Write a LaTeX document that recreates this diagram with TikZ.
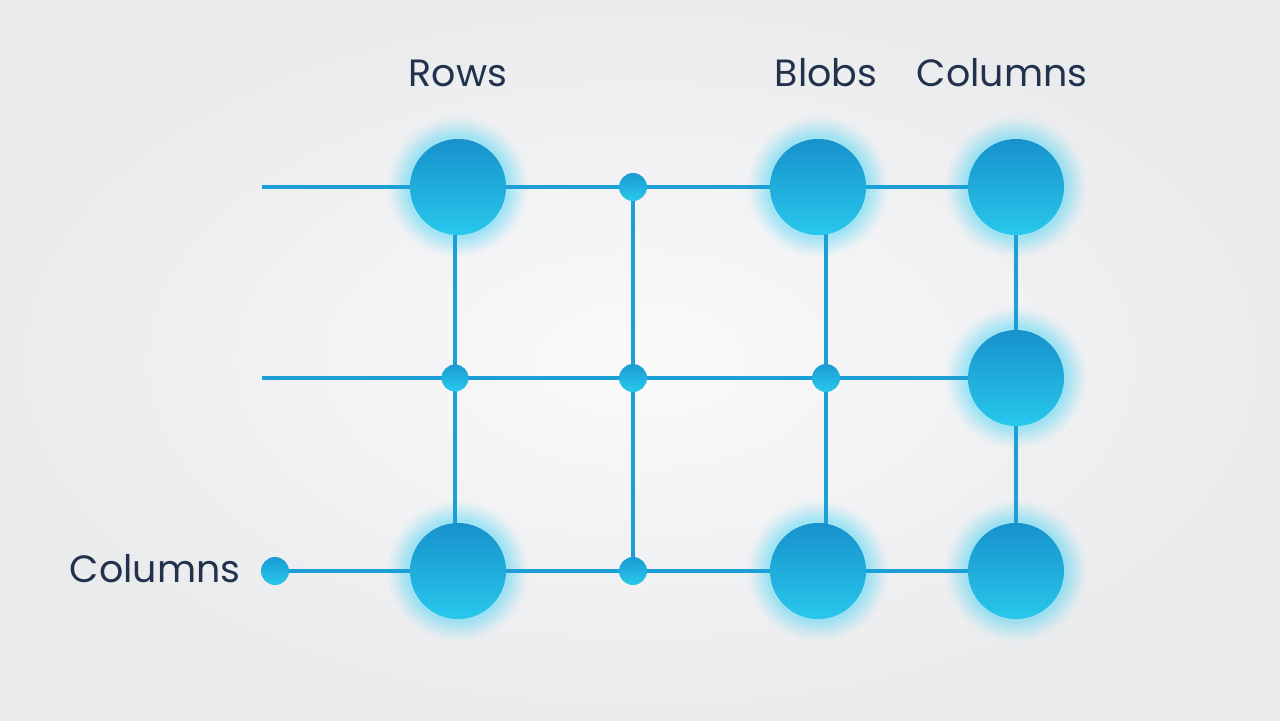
\documentclass[tikz,border=0pt]{standalone}
\usepackage{fontspec}
\setmainfont{Poppins}
\definecolor{bgout}{HTML}{EAEBED}
\definecolor{bgin}{HTML}{FAFAFB}
\definecolor{linec}{HTML}{1C9ED6}
\definecolor{bigtop}{HTML}{1791CC}
\definecolor{bigbot}{HTML}{28C8EC}
\definecolor{glowc}{HTML}{6DDCF7}
\definecolor{txt}{HTML}{22324D}
\pgfdeclarelayer{bottom}
\pgfdeclarelayer{background}
\pgfsetlayers{bottom,background,main}
\tikzset{
  big/.style={circle, minimum size=0.96cm, inner sep=0pt, top color=bigtop, bottom color=bigbot, draw=none},
  small/.style={circle, minimum size=0.28cm, inner sep=0pt, top color=bigtop!80!bigbot, bottom color=bigbot, draw=none},
  link/.style={draw=linec, line width=1pt},
  lab/.style={text=txt, font=\fontsize{10.8}{13}\selectfont, inner sep=0pt}
}
\newcommand{\myglow}[1]{%
  \foreach \r/\o in {70/0.06,67/0.08,64/0.10,61/0.12,58/0.14,55/0.16,52/0.18}{\fill[glowc, opacity=\o] (#1) circle (\r);}}
\begin{document}
\begin{tikzpicture}[x=0.01cm,y=-0.01cm]
\useasboundingbox (0,0) rectangle (1280,720);
% big nodes
\node[big] (a1) at (458,187) {};
\node[big] (c1) at (818,187) {};
\node[big] (d1) at (1016,187) {};
\node[big] (d2) at (1016,378) {};
\node[big] (a3) at (458,571) {};
\node[big] (c3) at (818,571) {};
\node[big] (d3) at (1016,571) {};
% small nodes
\node[small] (b1) at (633,187) {};
\node[small, minimum size=0.27cm] (a2) at (455,378) {};
\node[small] (b2) at (633,378) {};
\node[small] (c2) at (826,378) {};
\node[small] (b3) at (633,571) {};
\node[small] (s3) at (275,571) {};
\coordinate (l1) at (262,187);
\coordinate (l2) at (262,378);
% labels
\node[lab] (t1) at (458,73) {Rows};
\node[lab] (t2) at (826,73) {Blobs};
\node[lab] (t3) at (1002,73) {Columns};
\node[lab] (t4) at (155,569) {Columns};
\begin{pgfonlayer}{bottom}
\shade[inner color=bgin, outer color=bgout] (0,0) rectangle (1280,720);
\end{pgfonlayer}
\begin{pgfonlayer}{background}
\foreach \n in {a1,c1,d1,d2,a3,c3,d3}{\myglow{\n.center}}
\draw[link] (l1) -- (a1.center) -- (b1.center) -- (c1.center) -- (d1.center);
\draw[link] (l2) -- (a2.center) -- (b2.center) -- (c2.center) -- (d2.center);
\draw[link] (s3.center) -- (a3.center) -- (b3.center) -- (c3.center) -- (d3.center);
\draw[link] (a1.center -| a2) -- (a2.center) -- (a3.center -| a2);
\draw[link] (b1.center) -- (b2.center) -- (b3.center);
\draw[link] (c1.center -| c2) -- (c2.center) -- (c3.center -| c2);
\draw[link] (d1.center) -- (d2.center) -- (d3.center);
\end{pgfonlayer}
\end{tikzpicture}
\end{document}
